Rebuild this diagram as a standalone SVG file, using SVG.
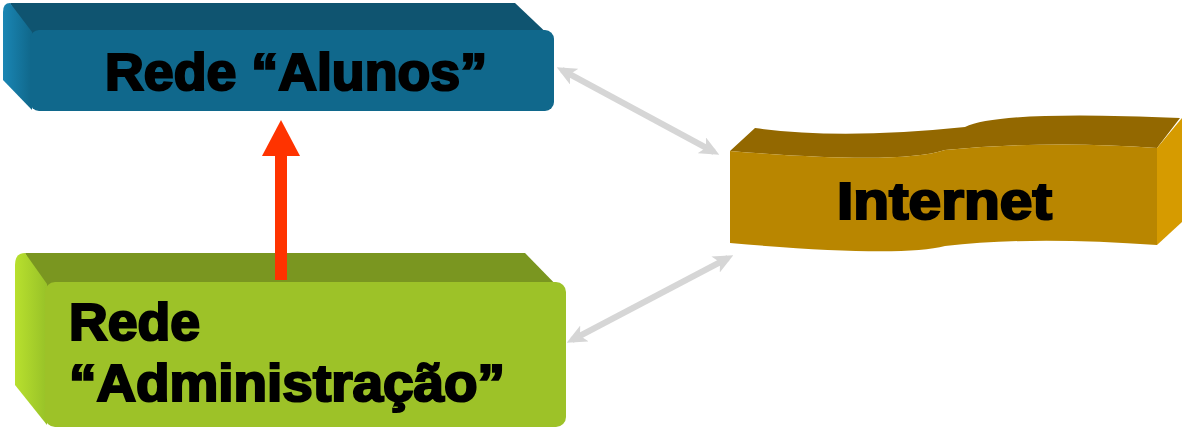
<svg xmlns="http://www.w3.org/2000/svg" width="1184" height="431" viewBox="0 0 1184 431">
<style>
text{font-family:"Liberation Sans",Arial,sans-serif;font-weight:bold;font-size:51px;fill:#000;stroke:#000;stroke-width:2.2}
.gray{stroke:#d6d6d6;stroke-width:6;fill:none}
</style>
<defs>
<marker id="ga" markerWidth="20" markerHeight="18" refX="14" refY="9" orient="auto-start-reverse" markerUnits="userSpaceOnUse" viewBox="0 0 20 18"><path d="M0,0 L20,9 L0,18 L5,9 z" fill="#d6d6d6"/></marker>
<linearGradient id="gl" x1="0" x2="1"><stop offset="0" stop-color="#1a86b4"/><stop offset="1" stop-color="#10678a"/></linearGradient>
<linearGradient id="gg" x1="0" x2="1"><stop offset="0" stop-color="#b8e02e"/><stop offset="1" stop-color="#98c228"/></linearGradient>
</defs>
<g id="alunos">
<path d="M10,3 H515 L554,40 H30 Z" fill="#0f5470"/>
<path d="M10,3 Q3,3 3,12 V80 L32,110 V32 Z" fill="url(#gl)"/>
<rect x="30" y="30" width="524" height="81" rx="9" fill="#10688c"/>
<text x="105" y="90" textLength="382" lengthAdjust="spacingAndGlyphs">Rede “Alunos”</text>
</g>
<g id="admin">
<path d="M25,253 H525 L566,295 H45 Z" fill="#7a9620"/>
<path d="M25,253 Q15,253 15,265 V385 L47,425 V284 Z" fill="url(#gg)"/>
<rect x="45" y="282" width="521" height="145" rx="10" fill="#9dc228"/>
<text x="69" y="340" textLength="131" lengthAdjust="spacingAndGlyphs">Rede</text>
<text x="69" y="401" textLength="436" lengthAdjust="spacingAndGlyphs">“Administração”</text>
</g>
<g id="internet">
<path d="M730,151 L755,128 Q840,140 965,127 Q1000,110 1180,118 L1157,148 Q1050,140 945,150 Q900,165 730,151 Z" fill="#936800"/>
<path d="M1157,148 L1182,118 V222 L1157,245 Z" fill="#d69b00"/>
<path d="M730,151 Q900,165 945,150 Q1050,140 1157,148 V245 Q1030,236 945,246 Q900,258 730,243 Z" fill="#b98600"/>
<text x="837" y="219" textLength="215" lengthAdjust="spacingAndGlyphs">Internet</text>
</g>
<g id="connectors">
<line class="gray" x1="562" y1="70" x2="714" y2="152" marker-start="url(#ga)" marker-end="url(#ga)"/>
<line class="gray" x1="572" y1="340" x2="728" y2="258" marker-start="url(#ga)" marker-end="url(#ga)"/>
<rect x="275" y="154" width="12" height="126" fill="#ff3300"/>
<path d="M262,156 L281,120 L300,156 z" fill="#ff3300"/>
</g>
</svg>
